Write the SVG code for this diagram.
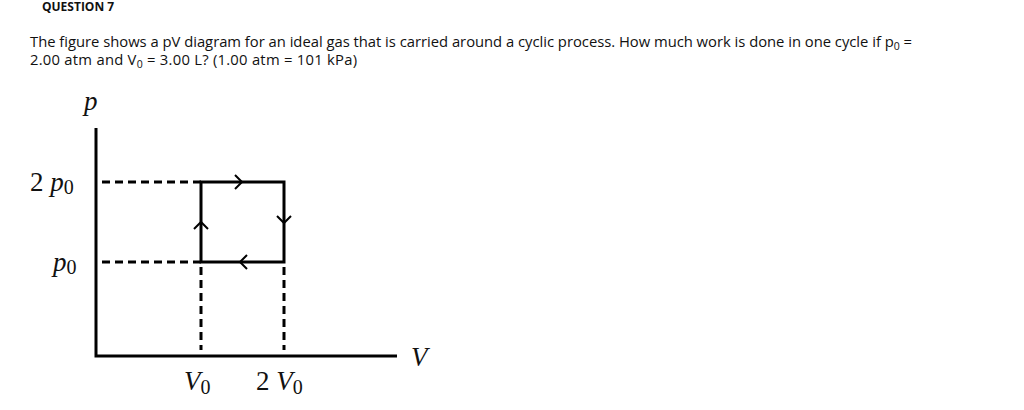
<svg xmlns="http://www.w3.org/2000/svg" width="1024" height="410" viewBox="0 0 1024 410">
<style>
.q{font-family:"Open Sans","Liberation Sans",sans-serif;font-size:14.8px;fill:#111}
.m{font-family:"Liberation Serif","Times New Roman",serif;font-size:27px;fill:#111}
.ax{stroke:#000;stroke-width:3;fill:none}
.dash{stroke:#000;stroke-width:3;stroke-dasharray:8,5;fill:none}
.arr{stroke:#000;stroke-width:2;fill:none}
</style>
<rect width="1024" height="410" fill="#fff"/>
<text x="42" y="11" class="q" style="font-weight:bold;font-size:12px">QUESTION 7</text>
<text x="30" y="47" class="q" textLength="882" lengthAdjust="spacing">The figure shows a pV diagram for an ideal gas that is carried around a cyclic process. How much work is done in one cycle if p<tspan font-size="10.5" dy="3">0</tspan><tspan dy="-3"> =</tspan></text>
<text x="30" y="65" class="q" textLength="327" lengthAdjust="spacing">2.00 atm and V<tspan font-size="10.5" dy="3">0</tspan><tspan dy="-3"> = 3.00 L? (1.00 atm = 101 kPa)</tspan></text>
<g id="labels">
<text x="84" y="110" class="m" font-style="italic">p</text>
<text x="30" y="191" class="m">2 <tspan font-style="italic">p</tspan><tspan font-size="20" dy="3">0</tspan></text>
<text x="53" y="271" class="m"><tspan font-style="italic">p</tspan><tspan font-size="20" dy="3">0</tspan></text>
<text x="411" y="366" class="m" font-style="italic">V</text>
<text x="184" y="390" class="m"><tspan font-style="italic">V</tspan><tspan font-size="20" dy="4">0</tspan></text>
<text x="256" y="390" class="m">2 <tspan font-style="italic">V</tspan><tspan font-size="20" dy="4">0</tspan></text>
</g>
<g id="axes">
<path class="ax" d="M96,128 V356 H397"/>
</g>
<g id="guides">
<path class="dash" d="M102,182 H201 M102,262 H201 M201,267 V350 M284,267 V350"/>
</g>
<g id="cycle">
<path class="ax" d="M201,182 H284 V262 H201 Z"/>
<path class="arr" d="M235,175 L242,182 L235,189"/>
<path class="arr" d="M277,216 L284,223 L291,216"/>
<path class="arr" d="M247,255 L240,262 L247,269"/>
<path class="arr" d="M194,229 L201,222 L208,229"/>
</g>
</svg>
